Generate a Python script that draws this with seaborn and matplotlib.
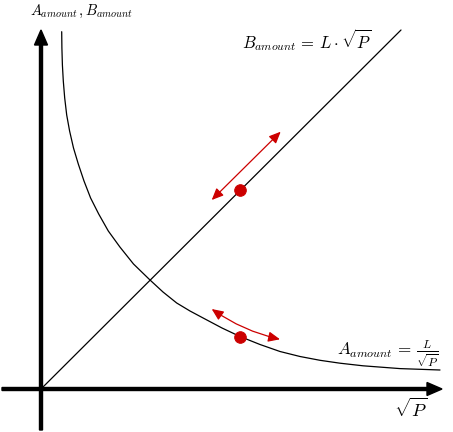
import matplotlib
matplotlib.use("Agg")
import matplotlib.pyplot as plt
import seaborn as sns
import pandas as pd

# B_amount = L * sqrt(P): straight line through the origin
line_x = [0.0, 3.60]
line_y = [0.0, 3.59]

# A_amount = L / sqrt(P): points
curve_x = [0.207, 0.209, 0.214, 0.223, 0.237, 0.257, 0.286, 0.325, 0.373, 0.43,
           0.496, 0.577, 0.673, 0.789, 0.925, 1.09, 1.22, 1.357, 1.49, 1.64,
           1.81, 1.99, 2.19, 2.39, 2.59, 2.79, 2.99, 3.22, 3.59, 3.99]
curve_y = [3.573, 3.41, 3.24, 3.08, 2.91, 2.74, 2.58, 2.41, 2.25, 2.08,
           1.91, 1.75, 1.58, 1.42, 1.25, 1.09, 0.97, 0.86, 0.78, 0.70,
           0.61, 0.525, 0.445, 0.375, 0.325, 0.287, 0.258, 0.232, 0.204, 0.19]

# the two red markers
dot_x = [1.99, 1.99]
dot_y = [1.99, 0.52]

# red double arrows (tail, head)
arrow_line = [(1.707, 1.89), (2.397, 2.573)]
arrow_curve = [(1.707, 0.80), (2.39, 0.497)]

red = "#cc0000"

sns.set_style("white")
plt.rcParams["mathtext.fontset"] = "cm"
plt.rcParams["text.color"] = "black"

fig = plt.figure(figsize=(4.53, 4.32), dpi=100)
ax = fig.add_axes([0, 0, 1, 1])
ax.set_xlim(-0.41, 4.12)
ax.set_ylim(-0.43, 3.89)
ax.axis("off")

# axes with arrows
ax.arrow(-0.39, 0, 4.40, 0, width=0.03, head_width=0.13, head_length=0.15,
         length_includes_head=True, color="black", zorder=3)
ax.arrow(0, -0.41, 0, 4.0, width=0.03, head_width=0.13, head_length=0.15,
         length_includes_head=True, color="black", zorder=3)

sns.lineplot(x=line_x, y=line_y, ax=ax, color="black", lw=0.9)
curve = pd.DataFrame({"x": curve_x, "y": curve_y})
sns.lineplot(data=curve, x="x", y="y", ax=ax, color="black", lw=0.9, sort=False)

sns.scatterplot(x=dot_x, y=dot_y, ax=ax, color=red, s=70, edgecolor=red, zorder=4)

ax.annotate("", xy=arrow_line[1], xytext=arrow_line[0],
            arrowprops=dict(arrowstyle="<|-|>,head_length=0.5,head_width=0.22",
                            mutation_scale=14, color=red, lw=0.9,
                            shrinkA=0, shrinkB=0))
ax.annotate("", xy=arrow_curve[1], xytext=arrow_curve[0],
            arrowprops=dict(arrowstyle="<|-|>,head_length=0.5,head_width=0.22",
                            mutation_scale=14, color=red, lw=0.9,
                            shrinkA=0, shrinkB=0,
                            connectionstyle="arc3,rad=0.1"))

ax.text(-0.11, 3.74, r"$A_{amount}\,, B_{amount}$", fontsize=10.5,
        va="baseline", color="black")
ax.text(2.007, 3.41, r"$B_{amount} \,=\, L \cdot \sqrt{P}$", fontsize=12,
        va="baseline", color="black")
ax.text(2.957, 0.34, r"$A_{amount} \,=\, \frac{L}{\sqrt{P}}$", fontsize=12.3,
        va="baseline", color="black")
ax.text(3.53, -0.277, r"$\sqrt{P}$", fontsize=13, va="baseline", color="black")

fig.savefig("out.png", dpi=100)
